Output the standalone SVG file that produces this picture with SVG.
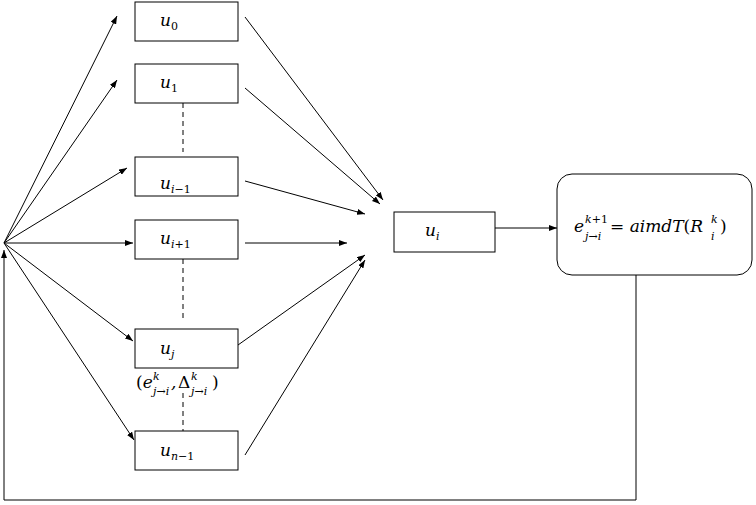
<svg xmlns="http://www.w3.org/2000/svg" width="756" height="505" viewBox="0 0 756 505">
<style>
.b{fill:#fff;stroke:#000;stroke-width:1}
.l{stroke:#000;stroke-width:1;fill:none}
.d{stroke:#000;stroke-width:1;stroke-dasharray:5,4;fill:none}
text{font-family:"DejaVu Serif","Liberation Serif",serif;font-style:italic;font-size:17px}
.s{font-size:11px}
.r{font-style:normal}
</style>
<defs><marker id="a" markerWidth="8" markerHeight="6" refX="8" refY="3" orient="auto" markerUnits="userSpaceOnUse"><path d="M0,0L8,3L0,6z"/></marker></defs>
<rect width="756" height="505" fill="#fff"/>
<g id="connectors">
<line class="l" marker-end="url(#a)" x1="4" y1="243" x2="117" y2="16"/>
<line class="l" marker-end="url(#a)" x1="4" y1="243" x2="117" y2="80"/>
<line class="l" marker-end="url(#a)" x1="4" y1="243" x2="127" y2="168"/>
<line class="l" marker-end="url(#a)" x1="4" y1="243" x2="133" y2="243"/>
<line class="l" marker-end="url(#a)" x1="4" y1="243" x2="133" y2="341"/>
<line class="l" marker-end="url(#a)" x1="4" y1="243" x2="134" y2="440"/>
<line class="l" marker-end="url(#a)" x1="245" y1="17" x2="383" y2="200"/>
<line class="l" marker-end="url(#a)" x1="245" y1="88" x2="380" y2="204"/>
<line class="l" marker-end="url(#a)" x1="245" y1="181" x2="365" y2="214"/>
<line class="l" marker-end="url(#a)" x1="245" y1="243" x2="347" y2="243"/>
<line class="l" marker-end="url(#a)" x1="238" y1="345" x2="365" y2="255"/>
<line class="l" marker-end="url(#a)" x1="245" y1="455" x2="365" y2="260"/>
<line class="l" marker-end="url(#a)" x1="495" y1="228" x2="557" y2="228"/>
<path class="l" marker-end="url(#a)" d="M636,275L636,500L4,500L4,250"/>
<path class="d" d="M183,103V152M183,259V322M183,393V431"/>
</g>
<g id="u0"><rect class="b" x="135" y="2" width="103" height="39"/><text x="160" y="26">u</text><text class="s r" x="171" y="30">0</text></g>
<g id="u1"><rect class="b" x="135" y="64" width="103" height="39"/><text x="160" y="88">u</text><text class="s r" x="171" y="92">1</text></g>
<g id="uim1"><rect class="b" x="135" y="157" width="103" height="39"/><text x="160" y="189">u</text><text class="s" x="171" y="193">i<tspan class="r">−1</tspan></text></g>
<g id="uip1"><rect class="b" x="135" y="220" width="103" height="39"/><text x="160" y="244">u</text><text class="s" x="171" y="248">i<tspan class="r">+1</tspan></text></g>
<g id="uj"><rect class="b" x="135" y="329" width="103" height="39"/><text x="160" y="354">u</text><text class="s" x="171" y="358">j</text></g>
<g id="label">
<text x="136" y="388"><tspan class="r">(</tspan>e</text>
<text class="s" x="153" y="380">k</text><text class="s" x="153" y="395">j→i</text>
<text x="171" y="388">,</text>
<text class="r" x="178" y="388">Δ</text>
<text class="s" x="191" y="380">k</text><text class="s" x="191" y="395">j→i</text>
<text class="r" x="212" y="388">)</text>
</g>
<g id="un1"><rect class="b" x="135" y="431" width="103" height="39"/><text x="160" y="456">u</text><text class="s" x="171" y="460">n<tspan class="r">−1</tspan></text></g>
<g id="ui"><rect class="b" x="394" y="212" width="101" height="40"/><text x="425" y="236">u</text><text class="s" x="436" y="240">i</text></g>
<g id="eq"><rect class="b" x="557" y="174" width="195" height="101" rx="15"/>
<text x="574" y="232">e</text>
<text class="s" x="585" y="223">k<tspan class="r">+1</tspan></text>
<text class="s" x="585" y="240">j→i</text>
<text x="610" y="232"><tspan class="r">=</tspan> aimdT<tspan class="r">(</tspan>R</text>
<text class="s" x="711" y="223">k</text><text class="s" x="711" y="240">i</text>
<text class="r" x="720" y="232">)</text>
</g>
</svg>
